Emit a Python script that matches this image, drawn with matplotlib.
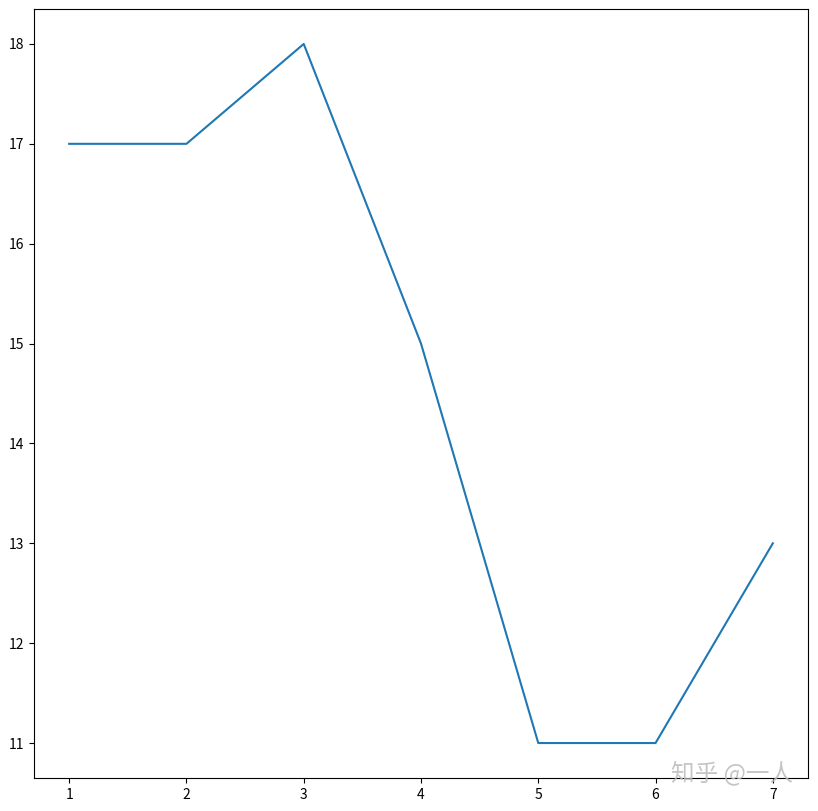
import matplotlib.pyplot as plt

plt.rcParams['font.family'] = ['Noto Sans CJK SC', 'DejaVu Sans']

# data
x = [1, 2, 3, 4, 5, 6, 7]
y = [17, 17, 18, 15, 11, 11, 13]

fig = plt.figure(figsize=(8.18, 8.11), dpi=100)
ax = fig.add_axes([34 / 818, 1 - 778 / 811, (808 - 34) / 818, (778 - 9) / 811])
ax.plot(x, y, color='#1f77b4', linewidth=1.5)
ax.tick_params(labelsize=10)

# watermark in the lower right corner
fig.text(0.82, 0.038, '知乎 @一人', fontsize=17, color='#bbbbbb', alpha=0.85)

fig.savefig('out.png', dpi=100)
